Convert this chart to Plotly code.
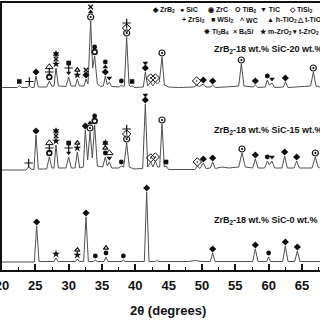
import numpy as np
import plotly.graph_objects as go

# ---------------- data (2theta in degrees, intensity in a.u. above each baseline) -------------
sic20_tt = [20.0, 22.3, 22.6, 22.9, 23.8, 24.1, 24.4, 24.8, 25.1, 25.45, 26.7, 27.1, 27.5, 27.8, 28.1,
            28.45, 29.6, 30.0, 30.35, 31.0, 31.3, 31.6, 32.3, 32.6, 32.9, 33.3, 33.6, 33.9, 34.3, 34.8,
            35.2, 35.5, 35.8, 36.1, 36.45, 37.6, 37.9, 38.2, 38.35, 38.7, 39.05, 39.3, 39.5, 39.8, 41.2,
            41.5, 41.85, 42.3, 42.6, 43.0, 43.3, 43.6, 44.0, 44.35, 45.0, 46.5, 48.8, 49.2, 49.6, 50.2,
            50.6, 51.3, 51.6, 52.0, 53.5, 55.5, 55.9, 56.3, 57.7, 58.0, 58.4, 59.5, 59.8, 60.1, 60.5,
            60.9, 62.2, 62.5, 62.9, 64.5, 66.3, 66.7, 67.1, 67.7]
sic20_int = [0.5, 0.5, 2.5, 0.5, 0.5, 2.5, 0.5, 0.5, 12, 1, 1, 7, 1.5, 2, 20,
             2, 1.5, 11, 2, 2, 9, 2, 2, 9, 4, 67, 20, 32, 4, 1.5,
             2, 12, 3, 6, 1.5, 1, 3, 1.5, 2, 51, 3, 1, 2.5, 0.5, 1,
             16, 2, 6, 2, 6, 4, 6, 31, 3, 1, 0.5, 1, 3, 1.5, 4,
             1, 1, 3, 0.5, 1, 2, 24, 2, 1, 3, 0.5, 1, 8, 3, 5,
             0.5, 1, 6, 0.5, 1, 2, 16, 2, 1]

sic15_tt = [20.0, 23.6, 24.0, 24.4, 24.8, 25.1, 25.45, 26.7, 27.1, 27.5, 27.8, 28.1, 28.45, 29.6, 30.0,
            30.4, 30.95, 31.3, 31.65, 32.2, 32.5, 32.85, 33.2, 33.55, 33.9, 34.3, 35.1, 35.5, 35.8, 36.1,
            36.45, 37.5, 37.9, 38.25, 38.7, 39.1, 39.8, 41.1, 41.5, 41.85, 42.3, 42.65, 43.0, 43.35, 43.65,
            44.0, 44.35, 44.6, 45.0, 48.9, 49.3, 49.7, 50.2, 50.6, 51.25, 51.6, 52.0, 53.0, 54.0, 55.5,
            56.0, 56.5, 57.6, 58.0, 58.4, 59.4, 59.8, 60.1, 60.5, 60.9, 62.0, 62.4, 62.8, 63.8, 64.2,
            64.6, 66.5, 67.0, 67.4, 67.7]
sic15_int = [0, 0, 3, 1, 0.5, 35, 1, 1, 13, 2, 2, 25, 2, 2, 13,
             2, 2, 18, 2, 3, 40, 10, 38, 12, 45, 4, 3, 13, 4, 8,
             2, 2, 4, 3, 27, 3, 1, 1.5, 66, 3, 8, 3, 9, 3, 3,
             46, 3, 4, 0.5, 0.5, 4, 1.5, 7, 1.5, 2, 8, 1.5, 3, 2, 3,
             17, 3, 2, 11, 2, 2, 9, 5, 9, 2, 2, 14, 2, 2, 9,
             2, 2, 13, 3, 2]

sic0_tt = [20.0, 24.85, 25.2, 25.55, 27.8, 28.1, 28.4, 31.0, 31.3, 31.6, 32.25, 32.6, 32.95, 33.7, 34.0,
           34.3, 35.3, 35.6, 35.9, 37.9, 38.2, 38.5, 41.35, 41.7, 42.05, 42.9, 43.2, 43.5, 48.0, 49.0,
           50.0, 51.25, 51.6, 51.95, 57.6, 58.0, 58.4, 59.7, 60.0, 60.3, 62.1, 62.5, 62.9, 63.9, 64.3,
           64.7, 67.7]
sic0_int = [0, 0, 36, 0.5, 0.5, 4, 0.5, 0.5, 3, 0.5, 0.5, 45, 0.5, 0.5, 2,
            0.5, 0.5, 5, 0.5, 0.5, 2, 0.5, 0.5, 70, 0.5, 0.5, 1.5, 0.5, 0.5, 1.5,
            0.5, 0.5, 9, 0.5, 0.5, 13, 0.5, 0.5, 5, 0.5, 0.5, 16, 0.5, 0.5, 11,
            0.5, 0.5]

sample_names = ["ZrB<sub>2</sub>-18 wt.% SiC-20 wt.%", "ZrB<sub>2</sub>-18 wt.% SiC-15 wt.%",
                "ZrB<sub>2</sub>-18 wt.% SiC-0 wt.%"]
offsets = [182, 100, 8]

# peak identifications: (2theta, phases from bottom to top)
sic20_ids = [(22.6, ["WSi2"]), (24.1, ["ZrSi2"]), (25.1, ["ZrB2"]), (27.1, ["TiB2", "ZrSi2", "t-TiO2"]),
             (28.1, ["m-ZrO2", "B4Si", "Ti3B4"]), (30.0, ["t-ZrO2", "ZrSi2", "WSi2"]),
             (31.3, ["m-ZrO2", "WC"]), (32.6, ["ZrB2", "B4Si"]), (33.3, ["ZrC", "h-TiO2", "B4Si"]),
             (33.9, ["TiB2", "SiC"]), (35.5, ["ZrB2", "h-TiO2", "SiC"]), (36.1, ["TiC"]), (37.9, ["SiC"]),
             (38.7, ["ZrC", "TiSi2", "ZrSi2"]), (39.5, ["WSi2"]), (41.5, ["ZrB2", "TiC"]),
             (42.3, ["TiSi2"]), (43.0, ["TiSi2"]), (44.0, ["ZrC"]), (49.2, ["TiSi2"]), (50.2, ["ZrB2"]),
             (51.6, ["ZrB2"]), (55.9, ["ZrC"]), (58.0, ["ZrB2"]), (59.8, ["SiC"]), (60.5, ["TiC"]),
             (62.5, ["ZrB2"]), (66.7, ["ZrC"])]
sic15_ids = [(24.0, ["ZrSi2"]), (25.1, ["ZrB2"]), (27.1, ["TiB2", "ZrSi2", "t-TiO2"]),
             (28.1, ["m-ZrO2", "B4Si", "Ti3B4"]), (30.0, ["t-ZrO2", "ZrSi2", "WSi2"]),
             (31.3, ["m-ZrO2", "WC"]), (32.5, ["ZrB2"]), (33.2, ["ZrC", "h-TiO2"]), (33.9, ["TiB2", "SiC"]),
             (35.5, ["SiC", "WC", "Ti3B4"]), (36.1, ["TiC", "t-TiO2"]), (37.9, ["SiC"]),
             (38.7, ["ZrC", "TiSi2", "ZrSi2"]), (41.5, ["ZrB2", "TiC"]), (42.3, ["TiSi2"]), (43.0, ["TiSi2"]),
             (44.0, ["ZrC"]), (44.6, ["WSi2"]), (49.3, ["TiSi2"]), (50.2, ["ZrB2"]), (51.6, ["ZrB2"]),
             (56.0, ["ZrC"]), (58.0, ["ZrB2"]), (59.8, ["SiC"]), (60.5, ["TiC"]), (62.4, ["ZrB2"]),
             (64.2, ["ZrB2"]), (67.0, ["ZrC"])]
sic0_ids = [(25.2, ["ZrB2"]), (28.1, ["m-ZrO2"]), (31.3, ["m-ZrO2", "WC"]), (32.6, ["ZrB2"]), (34.0, ["SiC"]),
            (35.6, ["SiC", "WC"]), (38.2, ["SiC"]), (41.7, ["ZrB2"]), (51.6, ["ZrB2"]), (58.0, ["ZrB2"]),
            (60.0, ["SiC"]), (62.5, ["ZrB2"]), (64.3, ["ZrB2"])]

legend_rows = [["ZrB2", "SiC", "ZrC", "TiB2", "TiC", "TiSi2"],
               ["ZrSi2", "WSi2", "WC", "h-TiO2", "t-TiO2"],
               ["Ti3B4", "B4Si", "m-ZrO2", "t-ZrO2"]]
legend_labels = {"ZrB2": "ZrB<sub>2</sub>", "SiC": "SiC", "ZrC": "ZrC", "TiB2": "TiB<sub>2</sub>",
                 "TiC": "TiC", "TiSi2": "TiSi<sub>2</sub>", "ZrSi2": "ZrSi<sub>2</sub>",
                 "WSi2": "WSi<sub>2</sub>", "WC": "WC", "h-TiO2": "h-TiO<sub>2</sub>",
                 "t-TiO2": "t-TiO<sub>2</sub>", "Ti3B4": "Ti<sub>3</sub>B<sub>4</sub>",
                 "B4Si": "B<sub>4</sub>Si", "m-ZrO2": "m-ZrO<sub>2</sub>", "t-ZrO2": "t-ZrO<sub>2</sub>"}

# ---------------- styles -------------
phase_style = {
    "ZrB2": dict(symbol="diamond", size=5.5, glyph="◆"),
    "SiC": dict(symbol="circle", size=4.8, glyph="●"),
    "ZrC": dict(symbol="circle-open-dot", size=6, lw=1.2, glyph="◉"),
    "TiB2": dict(symbol="circle-open", size=4.8, lw=1.6, glyph="O"),
    "TiC": dict(symbol="triangle-down", size=5, glyph="▼"),
    "TiSi2": dict(symbol="diamond-open-dot", size=6.5, lw=1, glyph="◇"),
    "ZrSi2": dict(symbol="cross-thin-open", size=6, lw=1.2, glyph="+"),
    "WSi2": dict(symbol="square", size=4.6, glyph="■"),
    "WC": dict(symbol="triangle-up-open", size=4.5, lw=1.2, glyph="^"),
    "h-TiO2": dict(symbol="triangle-up", size=5, glyph="▲"),
    "t-TiO2": dict(symbol="triangle-up-open", size=6.5, lw=1, glyph="△"),
    "Ti3B4": dict(symbol="hexagram", size=5.5, glyph="✸"),
    "B4Si": dict(symbol="x-thin-open", size=4.5, lw=1.3, glyph="×"),
    "m-ZrO2": dict(symbol="star", size=6, glyph="★"),
    "t-ZrO2": dict(symbol="triangle-down", size=4.5, glyph="▾"),
}
FONT = "Liberation Sans, Arial, sans-serif"
X0, X1 = 20, 67.7
Y0, Y1 = 0, 267
L, R, T, B = 2, 0, 3, 50
W = H = 320


def px2paper(px, py):
    return (px - L) / (W - L - R), (H - B - py) / (H - T - B)


fig = go.Figure()
patterns = [(sic20_tt, sic20_int, sic20_ids), (sic15_tt, sic15_int, sic15_ids), (sic0_tt, sic0_int, sic0_ids)]

marker_pts = {k: ([], []) for k in phase_style}
for (tt, inten, ids), off in zip(patterns, offsets):
    fig.add_trace(go.Scatter(x=tt, y=[v + off for v in inten], mode="lines",
                             line=dict(color="#505050", width=1), showlegend=False, hoverinfo="skip"))
    for pos, phases in ids:
        apex = float(np.interp(pos, tt, inten)) + off
        for k, ph in enumerate(phases):
            marker_pts[ph][0].append(pos)
            marker_pts[ph][1].append(apex + 4 + 5 * k)

for ph, (xs, ys) in marker_pts.items():
    if not xs:
        continue
    st = phase_style[ph]
    fig.add_trace(go.Scatter(x=xs, y=ys, mode="markers", cliponaxis=False, showlegend=False,
                             marker=dict(symbol=st["symbol"], size=st["size"], color="#111",
                                         line=dict(color="#111", width=st.get("lw", 0)))))

annotations = []
# legend built from text
legend_x = [[150, 178, 206, 233, 258, 287], [180, 209, 238, 265, 295], [201, 231, 258, 290]]
legend_y = [10, 20, 32]
for row, xs, yy in zip(legend_rows, legend_x, legend_y):
    for ph, xx in zip(row, xs):
        px, py = px2paper(xx, yy)
        annotations.append(dict(x=px, y=py, xref="paper", yref="paper", xanchor="left", yanchor="middle",
                                showarrow=False, text=phase_style[ph]["glyph"] + " " + legend_labels[ph],
                                font=dict(family=FONT, size=7, color="#111", weight="bold")))

label_y = [50, 130, 220]
for name, yy in zip(sample_names, label_y):
    px, py = px2paper(212, yy)
    annotations.append(dict(x=px, y=py, xref="paper", yref="paper", xanchor="left", yanchor="middle",
                            showarrow=False, text=name, font=dict(family=FONT, size=9, color="#111", weight="bold")))

px, py = px2paper(168, 310)
annotations.append(dict(x=px, y=py, xref="paper", yref="paper", xanchor="center", yanchor="middle",
                        showarrow=False, text="2θ (degrees)",
                        font=dict(family=FONT, size=13, color="#111", weight="bold")))

fig.update_layout(
    width=W, height=H, margin=dict(l=L, r=R, t=T, b=B, autoexpand=False),
    paper_bgcolor="white", plot_bgcolor="white", showlegend=False,
    annotations=annotations,
    xaxis=dict(range=[X0, X1], showline=True, linecolor="#111", linewidth=1.5, mirror=True,
               automargin=False,
               ticks="inside", ticklen=6, tickwidth=1.5, tickcolor="#111", tick0=20, dtick=5,
               minor=dict(dtick=2.5, ticks="inside", ticklen=3, tickwidth=1.2, tickcolor="#111"),
               showgrid=False, zeroline=False, ticklabeloverflow="allow", ticklabelstandoff=3,
               tickfont=dict(family=FONT, size=13, color="#111", weight="bold")),
    yaxis=dict(range=[Y0, Y1], showline=True, linecolor="#111", linewidth=1.5, showticklabels=False,
               automargin=False,
               ticks="", showgrid=False, zeroline=False),
)
fig.write_html("out.html")
